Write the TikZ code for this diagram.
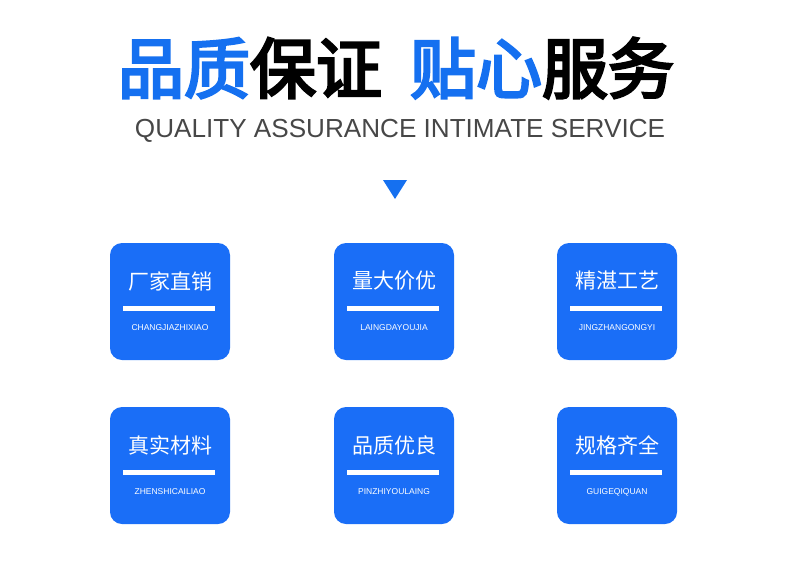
\documentclass[tikz,border=0pt]{standalone}
\usepackage{fontspec}
\setmainfont{Liberation Sans}
\newfontfamily\cjk{Noto Sans CJK SC}
\newfontfamily\cjkb[FakeBold=4]{Noto Sans CJK SC}
\definecolor{mblue}{HTML}{1A6EF7}
\definecolor{tblue}{HTML}{1570F0}
\begin{document}
\begin{tikzpicture}[x=1pt,y=-1pt,
  card/.style={fill=mblue,rounded corners=12pt,draw=none},
  ctitle/.style={text=white,font=\cjk\fontsize{21}{21}\selectfont,inner sep=0},
  csub/.style={text=white,font=\fontsize{8.5}{9}\selectfont,inner sep=0}]
\useasboundingbox (0,0) rectangle (790,568);
\node[inner sep=0,anchor=center,font=\cjkb\fontsize{66}{66}\selectfont] (title) at (396,68)
 {\textcolor{tblue}{品质}保证\hspace{28pt}\textcolor{tblue}{贴心}服务};
\node[inner sep=0,text=black!72] (sub) at (400,131) {\resizebox{530pt}{!}{\fontsize{24}{24}\selectfont QUALITY ASSURANCE INTIMATE SERVICE}};
\fill[tblue] (383,180) -- (407,180) -- (395,199) -- cycle;
\foreach \cx/\cy/\t/\s/\n in {170/243/厂家直销/CHANGJIAZHIXIAO/a,394/243/量大价优/LAINGDAYOUJIA/b,617/243/精湛工艺/JINGZHANGONGYI/c,170/407/真实材料/ZHENSHICAILIAO/d,394/407/品质优良/PINZHIYOULAING/e,617/407/规格齐全/GUIGEQIQUAN/f}{
  \fill[card] (\cx-60,\cy) rectangle (\cx+60,\cy+117);
  \node[ctitle] (t\n) at (\cx,\cy+38) {\t};
  \fill[white] (\cx-47,\cy+63) rectangle (\cx+45,\cy+68);
  \node[csub] (s\n) at (\cx,\cy+85) {\s};
}
\end{tikzpicture}
\end{document}
